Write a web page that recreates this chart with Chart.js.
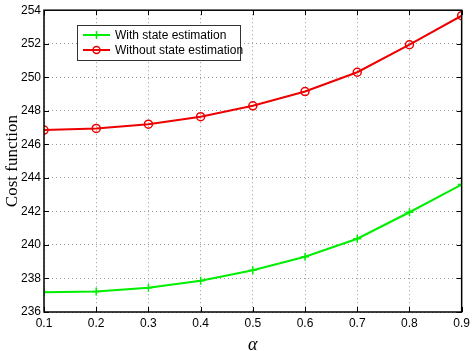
<!DOCTYPE html>
<html>
<head>
<meta charset="utf-8">
<script src="https://cdn.jsdelivr.net/npm/chart.js@4/dist/chart.umd.min.js"></script>
<style>
  html, body { margin: 0; padding: 0; background: #fff; }
  #wrap { width: 474px; height: 351px; }
</style>
</head>
<body>
<div id="wrap"><canvas id="costChart" width="474" height="351"></canvas></div>
<script>
// data
var alphas = [0.1, 0.2, 0.3, 0.4, 0.5, 0.6, 0.7, 0.8, 0.9];
var withEstimation = [237.18, 237.23, 237.45, 237.86, 238.49, 239.30, 240.37, 241.95, 243.60];
var withoutEstimation = [246.85, 246.95, 247.20, 247.65, 248.30, 249.15, 250.30, 251.94, 253.67];
var yTicks = [236, 238, 240, 242, 244, 246, 248, 250, 252, 254];
var xTicks = [0.1, 0.2, 0.3, 0.4, 0.5, 0.6, 0.7, 0.8, 0.9];

var TICK_FONT = { family: 'Arial, "Liberation Sans", sans-serif', size: 12 };

// inward ticks on all four sides, black frame, boxed legend
var matlabBox = {
    id: 'matlabBox',
    afterDatasetsDraw: function(chart) {
        var ctx = chart.ctx;
        var a = chart.chartArea;
        var xs = chart.scales.x, ys = chart.scales.y;
        ctx.save();
        ctx.strokeStyle = '#000';
        ctx.lineWidth = 1;
        ctx.beginPath();
        xTicks.forEach(function(v) {
            var px = Math.round(xs.getPixelForValue(v)) + 0.5;
            ctx.moveTo(px, a.bottom); ctx.lineTo(px, a.bottom - 5);
            ctx.moveTo(px, a.top); ctx.lineTo(px, a.top + 5);
        });
        yTicks.forEach(function(v) {
            var py = Math.round(ys.getPixelForValue(v)) + 0.5;
            ctx.moveTo(a.left, py); ctx.lineTo(a.left + 5, py);
            ctx.moveTo(a.right, py); ctx.lineTo(a.right - 5, py);
        });
        ctx.stroke();
        ctx.lineWidth = 1.5;
        ctx.strokeRect(a.left, a.top, a.right - a.left, a.bottom - a.top);

        // legend
        var lx = 77, ly = 25, lw = 163, lh = 35;
        ctx.fillStyle = '#fff';
        ctx.fillRect(lx, ly, lw, lh);
        ctx.lineWidth = 1;
        ctx.strokeStyle = '#333';
        ctx.strokeRect(lx + 0.5, ly + 0.5, lw, lh);
        ctx.font = '12px Arial, "Liberation Sans", sans-serif';
        ctx.textBaseline = 'middle';
        chart.data.datasets.forEach(function(ds, i) {
            var y = ly + 10 + i * 15;
            ctx.strokeStyle = ds.borderColor;
            ctx.lineWidth = 2;
            ctx.beginPath();
            ctx.moveTo(lx + 6, y); ctx.lineTo(lx + 33, y);
            ctx.stroke();
            var mx = lx + 19.5;
            ctx.lineWidth = 1.5;
            ctx.beginPath();
            if (ds.pointStyle === 'circle') {
                ctx.arc(mx, y, 3.5, 0, Math.PI * 2);
            } else {
                ctx.moveTo(mx - 4, y); ctx.lineTo(mx + 4, y);
                ctx.moveTo(mx, y - 4); ctx.lineTo(mx, y + 4);
            }
            ctx.stroke();
            ctx.fillStyle = '#000';
            ctx.fillText(ds.label, lx + 38, y + 1);
        });
        ctx.restore();
    }
};

new Chart(document.getElementById('costChart'), {
    type: 'line',
    data: {
        labels: alphas,
        datasets: [{
            label: 'With state estimation',
            data: withEstimation,
            borderColor: '#00ee00',
            backgroundColor: '#00ee00',
            borderWidth: 2,
            pointStyle: 'cross',
            pointRadius: 4,
            pointBorderWidth: 1.5,
            tension: 0
        }, {
            label: 'Without state estimation',
            data: withoutEstimation,
            borderColor: '#ee0000',
            backgroundColor: 'rgba(0,0,0,0)',
            borderWidth: 2,
            pointStyle: 'circle',
            pointRadius: 4,
            pointBorderWidth: 1.5,
            tension: 0
        }]
    },
    options: {
        responsive: false,
        animation: false,
        layout: { padding: { top: 4, right: 8, left: 2, bottom: 0 } },
        plugins: { legend: { display: false }, tooltip: { enabled: false } },
        scales: {
            x: {
                type: 'linear',
                min: 0.1, max: 0.9,
                afterBuildTicks: function(s) { s.ticks = xTicks.map(function(v) { return { value: v }; }); },
                afterFit: function(s) { s.height = 39; },
                grid: { color: '#9a9a9a', drawTicks: false },
                border: { display: false, dash: [1, 3] },
                ticks: {
                    color: '#000', font: TICK_FONT, padding: 4, maxRotation: 0,
                    callback: function(v) { return v.toFixed(1); }
                },
                title: {
                    display: true, text: 'α', color: '#000', padding: { top: 4, bottom: -5 },
                    font: { family: '"Liberation Serif", "DejaVu Serif", serif', size: 18, style: 'italic' }
                }
            },
            y: {
                min: 236, max: 254,
                afterBuildTicks: function(s) { s.ticks = yTicks.map(function(v) { return { value: v }; }); },
                afterFit: function(s) { s.width = 42; },
                grid: { color: '#9a9a9a', drawTicks: false },
                border: { display: false, dash: [1, 3] },
                ticks: { color: '#000', font: TICK_FONT, padding: 3 },
                title: {
                    display: true, text: 'Cost function', color: '#000', padding: { top: 0, bottom: 2 },
                    font: { family: '"Liberation Serif", "DejaVu Serif", serif', size: 17 }
                }
            }
        }
    },
    plugins: [matlabBox]
});
</script>
</body>
</html>
